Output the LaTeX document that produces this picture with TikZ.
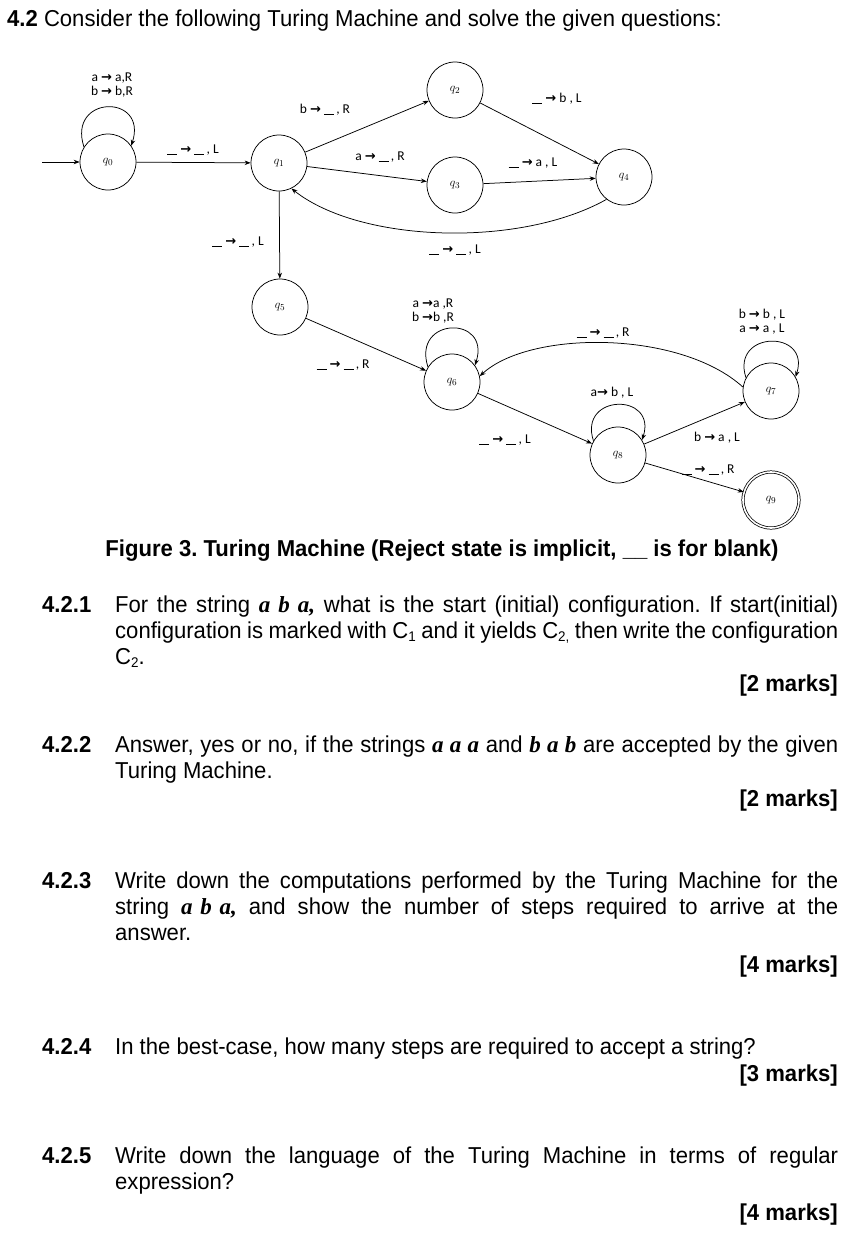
\documentclass[tikz,border=0pt]{standalone}
\usepackage{fontspec}
\usetikzlibrary{arrows.meta}
\setmainfont{Liberation Sans}[FakeStretch=0.96]
\newfontfamily\lab{Carlito}
\newfontfamily\dv{DejaVu Sans}
\newfontfamily\srf{Liberation Serif}
\newcommand\blk{\rule[-1.2pt]{10pt}{0.55pt}}
\newcommand\ra{{\dv\bfseries\fontsize{13}{13}\selectfont →}}
\newcommand\vv[1]{{\srf\bfseries\itshape #1}}
\newcommand\sub[1]{\raisebox{-3pt}{\fontsize{14}{14}\selectfont #1}}
\frenchspacing
\begin{document}
\begin{tikzpicture}[x=1pt,y=-1pt,
  st/.style={circle, draw, line width=0.75pt, minimum size=56pt, inner sep=0pt, font=\fontsize{13}{13}\selectfont},
  lbl/.style={font=\lab\fontsize{13.5}{14}\selectfont, align=center, inner sep=0pt},
  edge/.style={-{Stealth[length=6pt,width=4.5pt]}, line width=0.75pt},
  para/.style={anchor=north west, text width=723pt, align=justify, inner sep=0pt, font=\fontsize{23}{26}\selectfont},
  num/.style={anchor=base west, inner sep=0pt, font=\bfseries\fontsize{23}{26}\selectfont},
  marks/.style={anchor=base east, inner sep=0pt, font=\bfseries\fontsize{23}{26}\selectfont}]
\useasboundingbox (0,0) rectangle (850,1242);
\fill[white] (0,0) rectangle (850,1242);

% header
\node[anchor=base west, inner sep=0pt, font=\fontsize{23}{26}\selectfont] (hdr) at (7,26) {\textbf{4.2} Consider the following Turing Machine and solve the given questions:};

% states
\node[st] (q0) at (108,162) {$q_0$};
\node[st] (q1) at (279,163) {$q_1$};
\node[st] (q2) at (455,90) {$q_2$};
\node[st] (q3) at (455,185) {$q_3$};
\node[st] (q4) at (624,177) {$q_4$};
\node[st] (q5) at (280,307) {$q_5$};
\node[st] (q6) at (452,382) {$q_6$};
\node[st] (q7) at (771,391) {$q_7$};
\node[st] (q8) at (618,455) {$q_8$};
\node[st, double, double distance=1.6pt] (q9) at (771,500) {$q_9$};
\coordinate (start) at (42,162);

% edges
\draw[edge] (start) -- (q0);
\draw[edge] (q0.148) .. controls +(108:55pt) and +(72:55pt) .. (q0.35);
\draw[edge] (q0) -- (q1);
\draw[edge] (q1) -- (q2);
\draw[edge] (q1) -- (q3);
\draw[edge] (q2) -- (q4);
\draw[edge] (q3) -- (q4);
\draw[edge] (q4.232) .. controls (520,248) and (360,243) .. (q1.296);
\draw[edge] (q1) -- (q5);
\draw[edge] (q5) -- (q6);
\draw[edge] (q6.148) .. controls +(108:53pt) and +(72:53pt) .. (q6.36);
\draw[edge] (q6) -- (q8);
\draw[edge] (q8.150) .. controls +(108:50pt) and +(72:50pt) .. (q8.32);
\draw[edge] (q8) -- (q7);
\draw[edge] (q8) -- (q9);
\draw[edge] (q7.152) .. controls +(108:50pt) and +(72:50pt) .. (q7.30);
\draw[edge] (q7.172) .. controls (680,330) and (530,330) .. (q6.12);

% labels
\node[lbl] (l00) at (112,85) {a \ra{} a,R\\b \ra{} b,R};
\node[lbl] (l01) at (193,150) {\blk\ \ra{} \blk\,, L};
\node[lbl] (l15) at (238,242) {\blk\ \ra{} \blk\,, L};
\node[lbl] (l12) at (325,110) {b \ra{} \blk\,, R};
\node[lbl] (l13) at (380,157) {a \ra{} \blk\,, R};
\node[lbl] (l24) at (557,99) {\blk\ \ra{} b , L};
\node[lbl] (l34) at (533,163) {\blk\ \ra{} a , L};
\node[lbl] (l41) at (455,250) {\blk\ \ra{} \blk\,, L};
\node[lbl] (l56) at (343,365) {\blk\ \ra{} \blk\,, R};
\node[lbl] (l66) at (433,311) {a \ra{}a ,R\\b \ra{}b ,R};
\node[lbl] (l76) at (603,333) {\blk\ \ra{} \blk\,, R};
\node[lbl] (l77) at (762,322) {b \ra{} b , L\\a \ra{} a , L};
\node[lbl] (l68) at (505,440) {\blk\ \ra{} \blk\,, L};
\node[lbl] (l88) at (612,393) {a\ra{} b , L};
\node[lbl] (l87) at (717,438) {b \ra{} a , L};
\node[lbl] (l89) at (708,470) {\blk\ \ra{} \blk\,, R};

% caption
\node[anchor=base, inner sep=0pt, font=\bfseries\fontsize{23}{26}\selectfont] (cap) at (442,556) {Figure 3. Turing Machine (Reject state is implicit, \_\_ is for blank)};

% questions
\node[num] (n1) at (42,612) {4.2.1};
\node[para] (p1) at (115,593.8) {\strut For the string \vv{a b a,} what is the start (initial) configuration. If start(initial)\linebreak configuration is marked with C\sub{1} and it yields C\sub{2,} then write the configuration\linebreak C\sub{2}.};
\node[marks] (m1) at (838,691) {[2 marks]};

\node[num] (n2) at (42,752) {4.2.2};
\node[para] (p2) at (115,733.8) {\strut Answer, yes or no, if the strings \vv{a a a} and \vv{b a b} are accepted by the given\linebreak Turing Machine.};
\node[marks] (m2) at (838,806) {[2 marks]};

\node[num] (n3) at (42,888) {4.2.3};
\node[para] (p3) at (115,869.8) {\strut Write down the computations performed by the Turing Machine for the\linebreak string \vv{a\,\,b\,\,a,} and show the number of steps required to arrive at the\linebreak answer.};
\node[marks] (m3) at (838,972) {[4 marks]};

\node[num] (n4) at (42,1054) {4.2.4};
\node[para] (p4) at (115,1035.8) {\strut In the best-case, how many steps are required to accept a string?};
\node[marks] (m4) at (838,1081) {[3 marks]};

\node[num] (n5) at (42,1163) {4.2.5};
\node[para] (p5) at (115,1144.8) {\strut Write down the language of the Turing Machine in terms of regular\linebreak expression?};
\node[marks] (m5) at (838,1220) {[4 marks]};
\end{tikzpicture}
\end{document}
